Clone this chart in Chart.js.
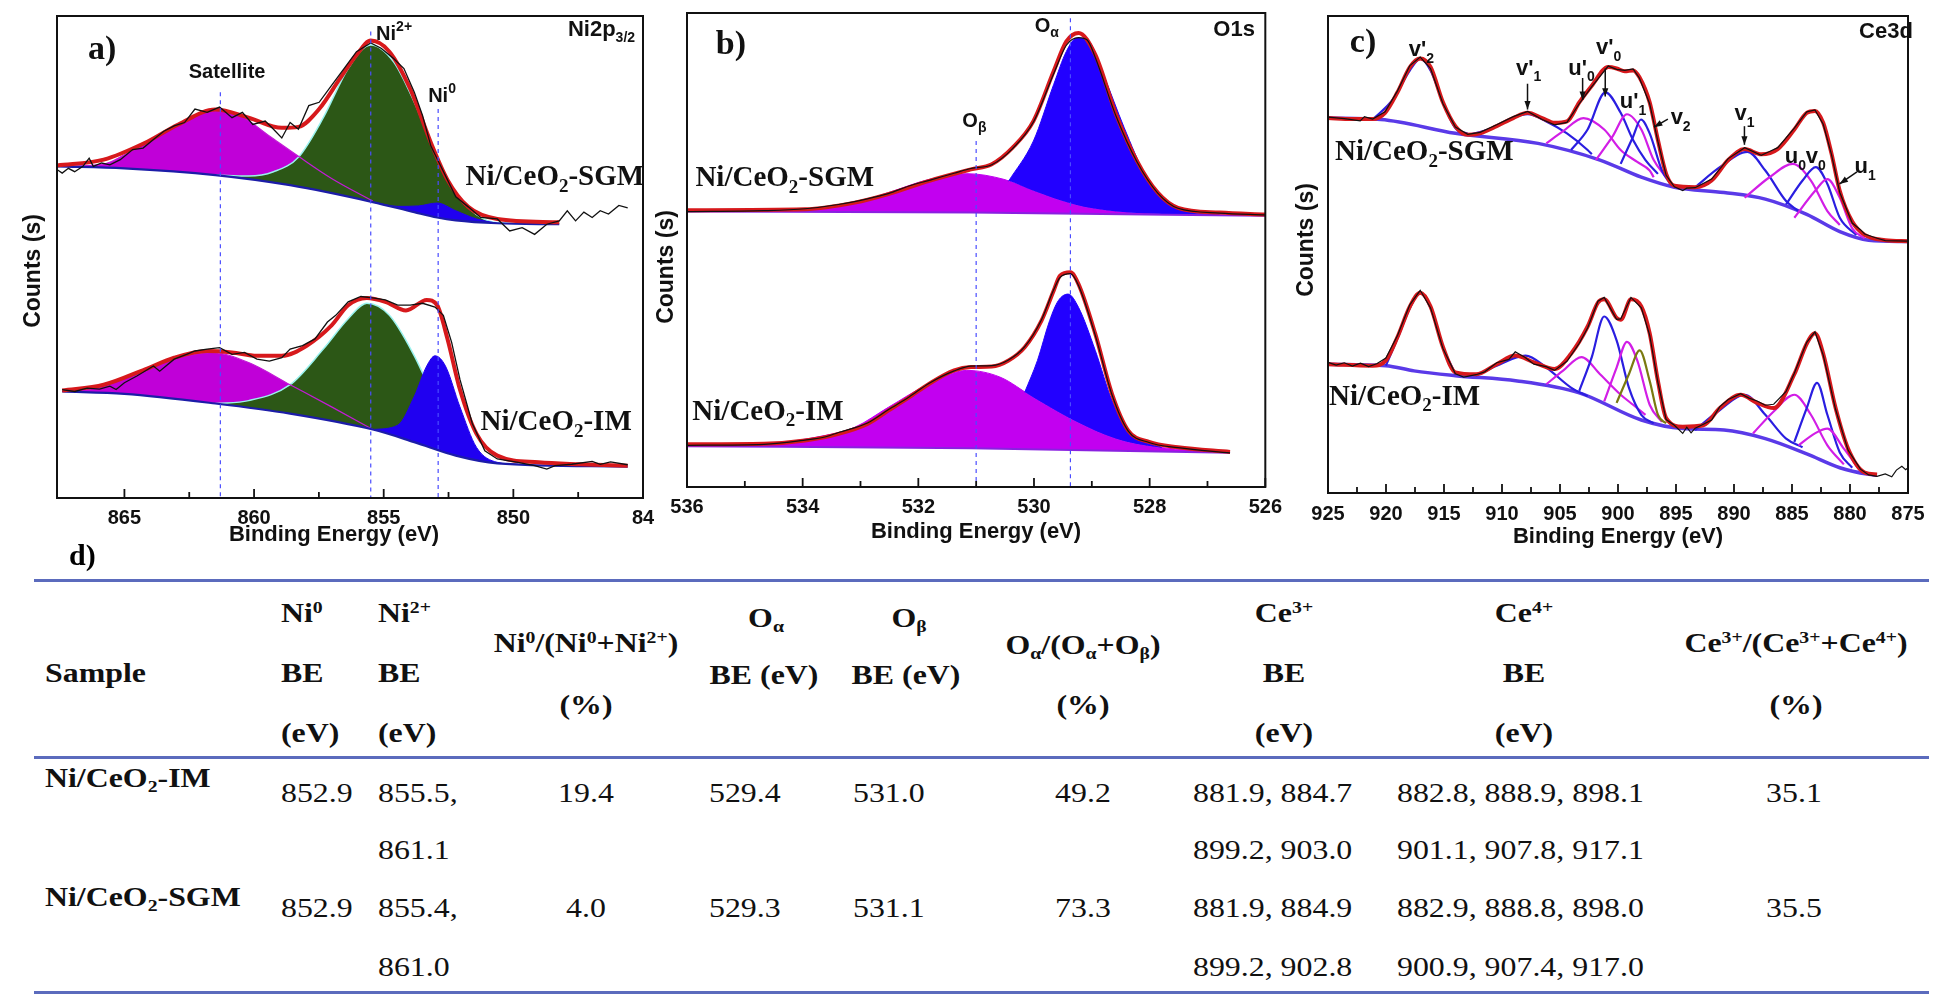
<!DOCTYPE html>
<html>
<head>
<meta charset="utf-8">
<script src="https://cdn.jsdelivr.net/npm/chart.js@4.4.1/dist/chart.umd.min.js"></script>
<style>
  body { margin: 0; background: #fff; width: 1939px; height: 1001px; position: relative; overflow: hidden; }
  canvas { position: absolute; top: 0; }
  #cA { left: 0; }
  #cB { left: 650px; }
  #cC { left: 1290px; }
  .hl { position: absolute; left: 34px; width: 1895px; height: 3px; background: #5b6bbd; }
  .cell { position: absolute; font-family: "Liberation Serif", serif; font-size: 27px; line-height: 1; white-space: nowrap; color: #111; }
  .b { font-weight: bold; }
  .l { transform: translateY(-50%) scaleX(1.18); transform-origin: left center; }
  .c { transform: translate(-50%, -50%) scaleX(1.18); transform-origin: center center; }
  sub { font-size: 0.62em; vertical-align: -0.3em; line-height: 0; }
  sup { font-size: 0.62em; vertical-align: 0.5em; line-height: 0; }
  #dlab { position: absolute; left: 69px; top: 555px; transform: translateY(-50%); font: bold 30px "Liberation Serif", serif; }
</style>
</head>
<body>
<canvas id="cA" width="680" height="560"></canvas>
<canvas id="cB" width="640" height="560"></canvas>
<canvas id="cC" width="649" height="560"></canvas>
<div id="dlab">d)</div>
<div id="table"></div>

<script>
// ---------- panel a) Ni2p3/2 ----------
const aTicks = [865, 860, 855, 850, 845];
const aTickLabels = ['865', '860', '855', '850', '84'];
const aMinor = [862.5, 857.5, 852.5, 847.5];
const aPeaks = [[861.3, 84.2], [855.5, 96.8], [852.9, 80.7]];

const aSgmRaw = [[867.59,68.1],[867.40,67.4],[867.16,68.4],[866.92,67.7],[866.60,68.8],[866.36,70.5],[866.20,68.8],[865.88,69.5],[865.56,69.1],[865.16,70.2],[864.68,72.3],[864.28,72.6],[863.88,74.4],[863.48,76.1],[863.08,77.2],[862.68,77.9],[862.28,80.7],[861.81,80.0],[861.33,81.1],[860.85,78.9],[860.45,80.0],[860.05,77.5],[859.57,78.2],[859.25,76.5],[858.93,74.7],[858.61,77.9],[858.29,76.5],[857.89,81.4],[857.49,82.1],[857.01,85.6],[856.53,89.1],[856.05,92.6],[855.50,94.4],[855.10,93.3],[854.62,91.2],[854.22,89.1],[853.82,84.2],[853.50,79.3],[853.18,73.0],[852.86,69.5],[852.54,66.0],[852.22,62.5],[851.74,60.4],[851.26,58.2],[850.62,57.9],[850.14,55.4],[849.66,56.1],[849.18,54.7],[848.71,56.8],[848.23,57.5],[847.92,59.6],[847.60,57.5],[847.28,59.3],[846.96,58.2],[846.65,59.6],[846.33,58.9],[845.93,60.7],[845.59,60.2]];
const aSgmFit = [[867.59,69.0],[865.80,70.2],[864.20,73.7],[862.92,77.5],[861.49,80.6],[860.21,78.9],[858.93,76.8],[858.29,77.0],[857.49,80.7],[856.69,87.0],[856.05,91.9],[855.50,94.9],[854.78,92.6],[853.98,84.9],[853.18,73.7],[852.54,66.0],[851.74,60.4],[850.62,57.9],[848.23,57.2]];
const aSgmBg = [[867.59,68.8],[865.00,68.4],[861.49,67.0],[858.61,64.9],[855.42,61.4],[853.82,59.3],[852.94,58.2],[852.22,57.6],[850.62,57.0],[848.23,56.8]];
const aSgmSat = [[867.59,68.8],[865.80,69.3],[865.00,71.2],[863.40,76.1],[862.28,79.3],[861.49,80.4],[860.53,79.3],[859.41,75.1],[858.29,70.9],[857.01,66.3],[855.42,61.6]];
const aSgmNi2 = [[861.49,67.0],[860.21,66.8],[859.25,67.7],[858.29,70.7],[857.33,78.9],[856.37,89.1],[855.50,94.0],[854.62,90.5],[853.82,82.1],[853.02,71.6],[852.22,63.2],[851.42,58.8],[850.62,57.1],[848.23,56.8]];
const aSgmNi0 = [[855.42,61.4],[854.46,60.5],[853.66,60.6],[852.94,61.2],[852.22,59.6],[851.42,57.9],[850.62,57.0]];

const aImRaw = [[867.40,22.5],[866.92,22.1],[866.44,22.8],[865.96,22.6],[865.56,23.2],[865.32,22.5],[865.00,23.9],[864.52,25.3],[863.88,27.4],[863.64,26.3],[863.08,28.8],[862.60,29.8],[862.28,30.5],[861.81,30.9],[861.33,31.2],[860.85,29.8],[860.37,30.2],[859.89,28.8],[859.41,28.4],[858.93,29.1],[858.61,30.9],[858.13,31.6],[857.65,33.0],[857.17,36.5],[856.85,37.9],[856.37,40.7],[855.88,41.8],[855.42,41.5],[854.94,41.1],[854.46,40.0],[853.98,40.0],[853.50,40.4],[853.02,39.6],[852.70,37.9],[852.38,32.3],[852.06,24.6],[851.58,15.4],[851.10,9.8],[850.62,8.1],[849.82,7.4],[849.18,6.7],[848.71,6.0],[848.39,6.7],[847.75,7.0],[846.96,7.6],[846.65,7.0],[846.25,7.5],[845.59,6.9]];
const aImFit = [[867.40,22.3],[865.80,23.5],[864.20,26.7],[863.08,29.1],[861.81,30.5],[860.85,30.2],[859.89,29.5],[858.93,29.5],[857.97,31.6],[857.01,35.8],[856.37,40.0],[855.65,41.5],[854.94,40.7],[854.14,38.9],[853.34,41.1],[852.94,40.0],[852.54,33.0],[852.06,22.5],[851.42,13.3],[850.62,8.8],[849.03,7.4],[847.43,7.0],[845.59,6.7]];
const aImBg = [[867.40,22.1],[865.00,21.6],[861.49,19.6],[858.61,17.5],[855.42,14.2],[853.82,11.6],[852.22,8.8],[850.62,7.2],[845.59,6.5]];
const aImSat = [[867.40,22.1],[865.80,23.2],[865.00,24.9],[863.40,28.4],[861.65,30.2],[860.21,28.1],[858.61,23.5],[857.01,18.9],[855.42,14.2]];
const aImNi2 = [[861.49,19.6],[860.21,20.2],[858.61,23.5],[857.33,30.9],[856.37,37.2],[855.65,40.4],[854.78,37.9],[853.82,29.5],[853.02,20.4],[852.22,12.6],[851.42,8.8],[850.62,7.2]];
const aImNi0 = [[855.42,14.2],[854.46,15.1],[853.82,21.1],[853.34,27.4],[853.02,29.5],[852.62,27.4],[852.06,18.9],[851.42,10.5],[850.62,7.4],[849.82,7.0]];

// ---------- panel b) O1s ----------
const bTicks = [536, 534, 532, 530, 528, 526];
const bTickLabels = ['536', '534', '532', '530', '528', '526'];
const bMinor = [535, 533, 531, 529, 527];
const bPeaks = [[531.0, 73.0], [529.37, 98.9]];

const bSgmRaw = [[536.00,58.1],[534.67,58.3],[533.96,58.7],[533.38,59.6],[532.88,60.8],[532.52,61.9],[532.16,63.5],[531.81,64.7],[531.38,66.2],[531.09,67.2],[530.73,68.0],[530.37,71.4],[530.01,77.0],[529.66,87.2],[529.44,93.2],[529.23,94.8],[529.08,94.3],[528.94,90.6],[528.58,78.2],[528.22,68.6],[527.86,62.0],[527.51,58.8],[526.79,57.8],[526.00,57.4]];
const bSgmFit = [[536.00,58.4],[533.96,58.6],[533.10,60.0],[532.52,61.8],[531.81,64.6],[531.09,67.0],[530.73,68.1],[530.37,71.6],[530.01,77.2],[529.66,87.7],[529.44,94.0],[529.23,95.8],[528.94,91.2],[528.58,78.6],[528.22,68.8],[527.86,62.1],[527.51,58.9],[526.79,57.9],[526.00,57.5]];
const bSgmBase = [[536.00,58.1],[531.09,57.9],[526.00,57.2]];
const bSgmObeta = [[536.00,58.4],[533.96,58.6],[533.10,60.0],[532.52,62.1],[531.81,64.9],[531.16,66.1],[530.52,64.9],[530.01,62.5],[529.30,59.6],[528.58,58.1],[527.51,57.5],[526.00,57.3]];
const bSgmOalpha = [[530.44,64.5],[530.01,73.0],[529.66,84.9],[529.44,91.9],[529.26,94.7],[529.08,94.4],[528.80,87.0],[528.44,75.8],[528.08,66.0],[527.72,60.4],[527.36,58.2],[526.79,57.5]];

const bImRaw = [[536.00,8.8],[534.67,9.0],[533.96,9.9],[533.60,10.6],[533.38,11.5],[532.88,13.5],[532.52,16.3],[532.16,19.0],[531.81,21.9],[531.38,24.5],[531.09,25.5],[530.73,25.6],[530.44,26.8],[530.16,29.6],[529.87,35.3],[529.66,41.6],[529.55,44.2],[529.37,45.0],[529.23,42.5],[528.94,32.0],[528.65,19.4],[528.37,11.8],[528.01,9.4],[527.51,8.3],[526.61,7.2]];
const bImFit = [[536.00,9.0],[534.67,9.1],[533.96,9.8],[533.38,11.2],[532.88,13.3],[532.52,16.1],[532.16,18.9],[531.81,21.8],[531.38,24.6],[531.09,25.3],[530.73,25.4],[530.44,26.7],[530.16,29.5],[529.87,35.1],[529.66,41.4],[529.55,44.6],[529.37,45.3],[529.23,42.8],[528.94,32.3],[528.65,19.6],[528.37,11.9],[528.01,9.5],[527.51,8.4],[526.61,7.4]];
const bImBase = [[536.00,8.6],[531.09,8.2],[526.61,7.2]];
const bImObeta = [[536.00,8.8],[534.67,9.1],[533.60,10.9],[533.10,12.6],[532.52,16.8],[531.81,21.8],[531.16,24.6],[530.59,23.2],[530.01,18.9],[529.30,14.0],[528.58,10.2],[527.86,8.4],[526.61,7.4]];
const bImOalpha = [[530.16,20.0],[529.94,26.7],[529.73,35.1],[529.58,39.3],[529.41,40.7],[529.23,37.9],[528.94,28.8],[528.65,18.2],[528.37,11.9],[528.08,9.5],[527.79,8.4]];

// ---------- panel c) Ce3d ----------
const cTicks = [925, 920, 915, 910, 905, 900, 895, 890, 885, 880, 875];
const cTickLabels = ['925', '920', '915', '910', '905', '900', '895', '890', '885', '880', '875'];
const cMinor = [922.5, 917.5, 912.5, 907.5, 902.5, 897.5, 892.5, 887.5, 882.5, 877.5];

const cSgmRaw = [[925.00,78.8],[923.60,78.5],[922.22,78.0],[921.86,78.9],[921.15,78.4],[920.08,79.9],[919.01,84.3],[917.94,89.6],[917.05,91.4],[916.16,89.0],[915.09,81.6],[914.02,76.7],[912.95,75.2],[911.89,75.6],[910.46,77.2],[909.03,78.9],[907.79,80.0],[906.54,78.3],[905.47,77.2],[904.40,77.7],[903.34,81.6],[902.26,85.2],[900.84,89.5],[900.12,88.8],[899.41,88.6],[898.70,88.9],[898.16,87.0],[897.27,81.6],[896.56,73.7],[895.85,66.6],[895.14,64.2],[894.42,63.4],[894.07,63.9],[893.35,64.0],[891.93,65.8],[890.50,70.1],[889.08,72.4],[887.65,70.8],[886.94,71.6],[886.23,72.4],[884.80,76.5],[883.73,79.9],[883.02,80.3],[882.31,77.3],[881.60,71.0],[880.88,63.0],[879.81,56.6],[879.10,55.2],[878.74,54.3],[877.67,53.4],[876.96,52.9],[875.00,52.8]];
const cSgmFit = [[925.00,78.6],[922.93,78.4],[921.15,78.4],[920.08,79.7],[919.01,84.0],[917.94,89.3],[917.05,91.1],[916.16,89.3],[915.09,81.9],[914.02,76.9],[912.95,75.1],[911.89,75.4],[910.46,76.9],[909.03,78.6],[907.79,79.7],[906.54,78.6],[905.47,77.6],[904.40,77.9],[903.34,81.9],[902.26,85.4],[900.84,89.3],[900.12,89.0],[899.41,88.4],[898.70,88.6],[898.16,87.2],[897.27,81.9],[896.56,74.0],[895.85,66.9],[895.14,64.4],[893.35,64.1],[891.93,65.5],[890.50,69.8],[889.08,72.1],[887.65,71.0],[886.23,72.1],[884.80,76.2],[883.73,79.7],[883.02,80.1],[882.31,77.6],[881.60,71.2],[880.88,63.3],[879.81,56.9],[878.74,54.1],[876.96,53.0],[875.00,52.8]];
const cSgmBg = [[925.00,78.6],[920.44,78.3],[914.02,75.4],[906.90,73.3],[901.55,69.8],[897.99,66.2],[895.14,64.1],[890.86,63.0],[887.30,61.6],[883.73,58.4],[880.88,54.8],[878.39,53.0],[875.00,52.7]];
const cSgmV2p = [[921.15,78.3],[919.37,82.6],[917.94,88.6],[917.05,91.0],[916.16,88.6],[915.09,81.9],[914.02,76.5],[912.95,75.3]];
const cSgmV1p = [[912.95,75.1],[911.17,76.2],[909.39,78.3],[907.79,79.4],[906.18,77.9],[904.40,75.4],[902.62,71.9],[902.26,71.0]];
const cSgmU0p = [[906.18,73.3],[904.76,75.8],[902.98,78.6],[901.19,76.2],[899.77,71.9],[898.34,69.4],[897.27,67.6],[896.92,66.2]];
const cSgmV0p = [[904.05,71.9],[902.62,76.2],[901.09,84.0],[899.77,79.7],[898.70,74.0],[897.63,69.8],[896.56,66.9]];
const cSgmU1p = [[901.91,69.8],[900.48,74.7],[899.23,79.4],[897.99,76.2],[896.92,69.8],[895.85,66.2]];
const cSgmV2 = [[899.77,69.0],[898.70,74.7],[898.02,78.3],[897.27,75.4],[896.21,67.6],[895.49,64.8]];
const cSgmV1 = [[893.35,64.1],[891.22,68.3],[888.83,71.5],[887.30,67.6],[885.51,61.2],[884.44,59.1]];
const cSgmU0 = [[889.08,61.9],[886.94,66.2],[884.94,69.0],[883.37,65.5],[881.95,59.1],[880.88,56.2]];
const cSgmV0 = [[885.51,60.5],[884.09,65.5],[882.95,68.3],[881.95,64.8],[880.88,57.7],[879.45,54.1]];
const cSgmU1 = [[884.80,57.7],[883.02,63.3],[881.95,65.8],[880.88,61.9],[879.81,55.5],[878.74,53.4]];

const cImRaw = [[925.00,27.4],[924.30,26.8],[923.60,27.3],[922.90,26.6],[922.20,27.2],[921.50,26.5],[920.80,27.1],[920.01,28.3],[919.01,33.0],[917.94,39.5],[917.05,42.5],[916.16,38.8],[915.09,30.3],[914.02,25.0],[913.30,24.3],[912.24,24.8],[911.50,25.4],[910.46,27.3],[909.40,28.0],[908.86,29.6],[908.00,28.4],[907.25,27.0],[906.20,26.5],[905.47,25.7],[904.40,27.6],[903.34,31.4],[902.62,34.6],[901.73,40.2],[901.19,41.0],[900.12,36.4],[899.77,36.5],[898.88,41.0],[897.99,38.8],[897.27,33.1],[896.56,23.2],[895.85,15.4],[895.14,14.2],[894.42,12.5],[894.07,13.8],[893.70,12.6],[893.35,13.6],[892.64,14.4],[891.93,15.3],[891.22,18.1],[890.50,19.6],[889.43,20.8],[888.70,19.9],[888.01,19.3],[887.30,18.4],[886.58,18.6],[885.51,21.3],[884.80,25.1],[883.73,31.6],[883.02,33.8],[882.31,28.9],[881.24,17.5],[880.17,9.0],[879.10,5.0],[878.39,3.8],[877.67,3.5],[876.96,4.0],[876.40,3.4],[876.00,4.8],[875.53,5.6],[875.20,4.9],[875.00,5.3]];
const cImFit = [[925.00,27.0],[921.15,26.7],[920.01,27.8],[919.01,32.7],[917.94,39.1],[917.05,42.0],[916.16,39.1],[915.09,30.6],[914.02,25.3],[912.24,24.9],[910.46,27.0],[908.86,28.8],[907.25,27.4],[905.47,26.0],[904.05,29.2],[902.62,34.9],[901.73,39.9],[901.19,40.6],[900.12,36.7],[899.77,36.3],[898.88,40.6],[897.99,39.1],[897.27,33.5],[896.56,23.5],[895.85,15.7],[894.42,13.9],[892.64,14.2],[891.22,17.8],[889.43,20.6],[888.01,18.9],[886.58,17.8],[884.80,24.9],[883.73,31.3],[883.02,33.5],[882.31,29.2],[881.24,17.8],[880.17,9.3],[878.74,4.3],[877.67,3.9]];
const cImBg = [[925.00,27.0],[920.01,26.7],[917.59,25.6],[914.02,24.6],[908.68,23.5],[903.34,21.0],[897.99,15.3],[894.42,13.5],[890.86,13.2],[887.30,11.4],[883.73,8.2],[880.88,5.3],[878.39,3.9],[877.67,3.7]];
const cImV2p = [[920.01,26.7],[919.01,32.4],[917.94,38.8],[917.05,41.9],[916.16,38.8],[915.09,30.6],[914.02,24.9]];
const cImV1p = [[912.24,24.6],[910.46,26.7],[907.97,28.8],[906.18,26.3],[904.05,22.1],[902.62,20.3]];
const cImU0p = [[906.18,22.8],[904.76,25.6],[903.15,28.5],[901.55,24.9],[899.77,20.6],[898.70,18.5],[897.63,16.4]];
const cImV0p = [[903.34,21.4],[902.26,28.5],[901.19,37.0],[900.12,32.0],[899.06,22.1],[897.99,16.4],[896.92,14.6]];
const cImU1p = [[901.19,19.2],[900.12,26.3],[899.23,31.7],[898.34,27.8],[897.27,18.5],[896.21,14.9]];
const cImV2 = [[900.12,18.9],[899.06,24.9],[898.13,29.9],[897.27,23.5],[896.56,16.4],[895.85,14.6]];
const cImV1 = [[893.35,13.2],[891.22,17.4],[889.08,20.6],[887.30,16.4],[885.51,11.4],[884.09,9.6]];
const cImU0 = [[888.36,12.5],[886.58,17.1],[884.80,20.6],[883.37,16.4],[881.95,10.0],[880.53,6.0]];
const cImV0 = [[884.80,10.7],[883.73,17.8],[882.84,23.1],[881.95,16.4],[880.88,8.5],[879.81,5.3]];
const cImU1 = [[884.44,10.0],[883.02,12.5],[881.95,13.5],[880.53,9.3],[879.10,4.6]];

// ---------- d) table ----------
const sampleNames = ['Ni/CeO<sub>2</sub>-IM', 'Ni/CeO<sub>2</sub>-SGM'];
const ni0BE = ['852.9', '852.9'];
const ni2BE = [['855.5,', '861.1'], ['855.4,', '861.0']];
const niRatio = ['19.4', '4.0'];
const oAlphaBE = ['529.4', '529.3'];
const oBetaBE = ['531.0', '531.1'];
const oRatio = ['49.2', '73.3'];
const ce3BE = [['881.9, 884.7', '899.2, 903.0'], ['881.9, 884.9', '899.2, 902.8']];
const ce4BE = [['882.8, 888.9, 898.1', '901.1, 907.8, 917.1'], ['882.9, 888.8, 898.0', '900.9, 907.4, 917.0']];
const ceRatio = ['35.1', '35.5'];

// ---------- drawing ----------
const FONTS = {
  lab: 'bold 20px "Liberation Sans"',
  labL: 'bold 22px "Liberation Sans"',
  labS: 'bold 14px "Liberation Sans"',
  samp: 'bold 29px "Liberation Serif"',
  sampS: 'bold 19px "Liberation Serif"',
  pan: 'bold 34px "Liberation Serif"',
  axis: 'bold 22px "Liberation Sans"',
  axisY: 'bold 23px "Liberation Sans"'
};

function drawRich(ctx, x, y, parts) {
  let w = 0;
  parts.forEach(p => { ctx.font = FONTS[p[1]]; w += ctx.measureText(p[0]).width; });
  let cx = x - w / 2;
  ctx.textBaseline = 'middle';
  ctx.textAlign = 'left';
  parts.forEach(p => {
    ctx.font = FONTS[p[1]];
    ctx.fillText(p[0], cx, y + (p[2] || 0));
    cx += ctx.measureText(p[0]).width;
  });
}

const sgmLabel = [['Ni/CeO', 'samp'], ['2', 'sampS', 9], ['-SGM', 'samp']];
const imLabel = [['Ni/CeO', 'samp'], ['2', 'sampS', 9], ['-IM', 'samp']];

function panelPlugin(p) {
  return {
    id: 'panelDecor',
    afterDatasetsDraw(chart) {
      const { ctx, chartArea: ca, scales: { x, y } } = chart;
      ctx.save();
      ctx.strokeStyle = '#111';
      ctx.lineWidth = 2;
      ctx.strokeRect(ca.left, ca.top, ca.right - ca.left, ca.bottom - ca.top);
      ctx.lineWidth = 1.8;
      const tick = (v, len) => {
        const px = x.getPixelForValue(v);
        ctx.beginPath(); ctx.moveTo(px, ca.bottom); ctx.lineTo(px, ca.bottom - len); ctx.stroke();
      };
      p.major.forEach(v => tick(v, 9));
      p.minor.forEach(v => tick(v, 6));
      ctx.fillStyle = '#111';
      p.labels.forEach(l => drawRich(ctx, x.getPixelForValue(l[0]), y.getPixelForValue(l[1]), l[2]));
      (p.arrows || []).forEach(a => {
        const x1 = x.getPixelForValue(a[0]), y1 = y.getPixelForValue(a[1]);
        const x2 = x.getPixelForValue(a[2]), y2 = y.getPixelForValue(a[3]);
        const ang = Math.atan2(y2 - y1, x2 - x1);
        ctx.lineWidth = 1.5;
        ctx.beginPath(); ctx.moveTo(x1, y1); ctx.lineTo(x2, y2); ctx.stroke();
        ctx.beginPath();
        ctx.moveTo(x2, y2);
        ctx.lineTo(x2 - 9 * Math.cos(ang - 0.35), y2 - 9 * Math.sin(ang - 0.35));
        ctx.lineTo(x2 - 9 * Math.cos(ang + 0.35), y2 - 9 * Math.sin(ang + 0.35));
        ctx.closePath(); ctx.fill();
      });
      drawRich(ctx, p.xTitle[0], p.xTitle[1], [['Binding Energy (eV)', 'axis']]);
      ctx.translate(p.yTitle[0], p.yTitle[1]);
      ctx.rotate(-Math.PI / 2);
      drawRich(ctx, 0, 0, [['Counts (s)', 'axisY']]);
      ctx.restore();
    }
  };
}

function makePanel(id, p, datasets) {
  datasets.forEach((d, i) => { d.order = -i; });
  return new Chart(document.getElementById(id), {
    type: 'line',
    data: { datasets },
    options: {
      responsive: false,
      animation: false,
      devicePixelRatio: 1,
      layout: { padding: p.pad },
      plugins: { legend: { display: false }, tooltip: { enabled: false } },
      elements: { point: { radius: 0 } },
      scales: {
        x: {
          type: 'linear', min: p.min, max: p.max, reverse: true,
          grid: { display: false, drawTicks: false },
          border: { display: false },
          afterBuildTicks: s => { s.ticks = p.major.map(v => ({ value: v })); },
          afterFit: s => { s.height = p.axisH; },
          ticks: {
            autoSkip: false, maxRotation: 0, padding: p.tickPad, color: '#111',
            font: { family: 'Liberation Sans', weight: 'bold', size: 20 },
            callback: (v, i) => p.tickLabels[i]
          }
        },
        y: { display: false, min: 0, max: 100 }
      }
    },
    plugins: [panelPlugin(p)]
  });
}

function ln(data, color, width, extra) {
  return Object.assign({ data, borderColor: color, borderWidth: width, pointRadius: 0, fill: false, cubicInterpolationMode: 'monotone' }, extra || {});
}
function dash(pk) {
  return ln([[pk[0], pk[1]], [pk[0], 0]], '#4a4cff', 1.2, { borderDash: [4, 4], cubicInterpolationMode: 'default', tension: 0 });
}

// ---- panel a datasets ----
const aSets = [];
function addA(raw, fit, bg, sat, ni2, ni0) {
  const t = aSets.length;
  aSets.push(ln(bg, 'rgba(0,0,0,0)', 0));
  aSets.push(ln(sat, '#c000d8', 0, { fill: { target: t }, backgroundColor: '#c000d8' }));
  aSets.push(ln(ni2, '#9af2ee', 1.5, { fill: { target: t }, backgroundColor: '#2c5716' }));
  aSets.push(ln(ni0, '#2000f0', 1, { fill: { target: t }, backgroundColor: '#2000f0' }));
  aSets.push(ln(sat, '#c41ad8', 1.2));
  aSets.push(ln(bg, '#1c1ca8', 2.2));
  aSets.push(ln(fit, '#d7191c', 4));
  aSets.push(ln(raw, '#111', 1.3, { cubicInterpolationMode: 'default', tension: 0 }));
}
addA(aSgmRaw, aSgmFit, aSgmBg, aSgmSat, aSgmNi2, aSgmNi0);
addA(aImRaw, aImFit, aImBg, aImSat, aImNi2, aImNi0);
aPeaks.forEach(pk => aSets.push(dash(pk)));

makePanel('cA', {
  min: 845, max: 867.6, major: aTicks, minor: aMinor, tickLabels: aTickLabels,
  pad: { left: 57, top: 16, right: 37, bottom: 0 }, axisH: 62, tickPad: 8,
  xTitle: [334, 535], yTitle: [34, 271],
  labels: [
    [865.86, 92.9, [['a)', 'pan']]],
    [861.04, 88.2, [['Satellite', 'lab']]],
    [854.6, 96.1, [['Ni', 'lab'], ['2+', 'labS', -8]]],
    [852.75, 83.2, [['Ni', 'lab'], ['0', 'labS', -8]]],
    [846.6, 97.1, [['Ni2p', 'labL'], ['3/2', 'labS', 8]]],
    [848.4, 66.4, sgmLabel],
    [848.35, 15.6, imLabel]
  ]
}, aSets);

// ---- panel b datasets ----
const bSets = [];
function addB(raw, fit, base, obeta, oalpha) {
  const t = bSets.length;
  bSets.push(ln(base, 'rgba(0,0,0,0)', 0));
  bSets.push(ln(obeta, '#c200f0', 1, { fill: { target: t }, backgroundColor: '#c200f0' }));
  bSets.push(ln(oalpha, '#2200ff', 1, { fill: { target: t + 1 }, backgroundColor: '#2200ff' }));
  bSets.push(ln(base, '#8a20e0', 2));
  bSets.push(ln(fit, '#d7191c', 4));
  bSets.push(ln(raw, '#111', 1.2));
}
addB(bSgmRaw, bSgmFit, bSgmBase, bSgmObeta, bSgmOalpha);
addB(bImRaw, bImFit, bImBase, bImObeta, bImOalpha);
bPeaks.forEach(pk => bSets.push(dash(pk)));

makePanel('cB', {
  min: 526, max: 536, major: bTicks, minor: bMinor, tickLabels: bTickLabels,
  pad: { left: 37, top: 13, right: 24, bottom: 0 }, axisH: 73, tickPad: 8,
  xTitle: [326, 532], yTitle: [17, 267],
  labels: [
    [535.24, 93.2, [['b)', 'pan']]],
    [529.78, 97.2, [['O', 'lab'], ['α', 'labS', 7]]],
    [531.03, 77.1, [['O', 'lab'], ['β', 'labS', 7]]],
    [526.54, 96.4, [['O1s', 'labL']]],
    [534.31, 65.0, sgmLabel],
    [534.6, 15.7, imLabel]
  ]
}, bSets);

// ---- panel c datasets ----
const BLUE = '#2a1ee0', MAG = '#d21ee6', OLIVE = '#7a7a10';
const cSets = [];
function addC(raw, fit, bg, comps) {
  cSets.push(ln(bg, '#5a3ae8', 3.5));
  comps.forEach(c => cSets.push(ln(c[0], c[1], 2.2)));
  cSets.push(ln(fit, '#d7191c', 4));
  cSets.push(ln(raw, '#111', 1.2, { cubicInterpolationMode: 'default', tension: 0 }));
}
addC(cSgmRaw, cSgmFit, cSgmBg, [[cSgmV2p, BLUE], [cSgmV1p, BLUE], [cSgmU0p, MAG], [cSgmV0p, BLUE], [cSgmU1p, MAG], [cSgmV2, BLUE], [cSgmV1, BLUE], [cSgmU0, MAG], [cSgmV0, BLUE], [cSgmU1, MAG]]);
addC(cImRaw, cImFit, cImBg, [[cImV2p, BLUE], [cImV1p, BLUE], [cImU0p, MAG], [cImV0p, BLUE], [cImU1p, MAG], [cImV2, OLIVE], [cImV1, BLUE], [cImU0, MAG], [cImV0, BLUE], [cImU1, MAG]]);

const sub = (m, s) => [[m, 'labL'], [s, 'labS', 9]];
makePanel('cC', {
  min: 875, max: 925, major: cTicks, minor: cMinor, tickLabels: cTickLabels,
  pad: { left: 38, top: 16, right: 31, bottom: 0 }, axisH: 67, tickPad: 9,
  xTitle: [328, 537], yTitle: [17, 240],
  labels: [
    [921.98, 94.3, [['c)', 'pan']]],
    [876.9, 96.6, [['Ce3d', 'labL']]],
    [916.7, 71.3, sgmLabel],
    [918.4, 20.1, imLabel],
    [916.95, 92.9, sub("v'", '2')],
    [907.7, 89.0, sub("v'", '1')],
    [903.15, 89.0, sub("u'", '0')],
    [900.8, 93.2, sub("v'", '0')],
    [898.7, 81.9, sub("u'", '1')],
    [894.6, 78.6, sub('v', '2')],
    [889.1, 79.4, sub('v', '1')],
    [884.7, 70.5, sub('u', '0')],
    [882.95, 70.5, sub('v', '0')],
    [878.7, 68.3, sub('u', '1')]
  ],
  arrows: [
    [907.8, 85.8, 907.8, 80.4],
    [903.05, 87.0, 903.05, 82.4],
    [901.1, 89.0, 901.1, 83.1],
    [895.7, 78.4, 896.9, 76.7],
    [889.1, 76.9, 889.1, 73.0],
    [879.4, 67.3, 880.9, 64.8]
  ]
}, cSets);

// ---- table ----
const tbl = document.getElementById('table');
function cell(html, x, y, align, bold) {
  const d = document.createElement('div');
  d.className = 'cell ' + align + (bold ? ' b' : '');
  d.style.left = x + 'px';
  d.style.top = y + 'px';
  d.innerHTML = html;
  tbl.appendChild(d);
}
[580, 757, 992].forEach(y => {
  const h = document.createElement('div');
  h.className = 'hl';
  h.style.top = (y - 1) + 'px';
  tbl.appendChild(h);
});
const headCells = [
  ['Sample', 45, 673, 'l'],
  ['Ni<sup>0</sup>', 281, 613, 'l'], ['BE', 281, 673, 'l'], ['(eV)', 281, 733, 'l'],
  ['Ni<sup>2+</sup>', 378, 613, 'l'], ['BE', 378, 673, 'l'], ['(eV)', 378, 733, 'l'],
  ['Ni<sup>0</sup>/(Ni<sup>0</sup>+Ni<sup>2+</sup>)', 586, 643, 'c'], ['(%)', 586, 705, 'c'],
  ['O<sub>α</sub>', 766, 618, 'c'], ['BE (eV)', 764, 675, 'c'],
  ['O<sub>β</sub>', 909, 618, 'c'], ['BE (eV)', 906, 675, 'c'],
  ['O<sub>α</sub>/(O<sub>α</sub>+O<sub>β</sub>)', 1083, 645, 'c'], ['(%)', 1083, 705, 'c'],
  ['Ce<sup>3+</sup>', 1284, 613, 'c'], ['BE', 1284, 673, 'c'], ['(eV)', 1284, 733, 'c'],
  ['Ce<sup>4+</sup>', 1524, 613, 'c'], ['BE', 1524, 673, 'c'], ['(eV)', 1524, 733, 'c'],
  ['Ce<sup>3+</sup>/(Ce<sup>3+</sup>+Ce<sup>4+</sup>)', 1796, 643, 'c'], ['(%)', 1796, 705, 'c']
];
headCells.forEach(h => cell(h[0], h[1], h[2], h[3], true));

const nameY = [778, 897], row1Y = [793, 908], row2Y = [850, 967];
sampleNames.forEach((n, i) => {
  cell(n, 45, nameY[i], 'l', true);
  cell(ni0BE[i], 281, row1Y[i], 'l');
  cell(ni2BE[i][0], 378, row1Y[i], 'l');
  cell(ni2BE[i][1], 378, row2Y[i], 'l');
  cell(niRatio[i], 586, row1Y[i], 'c');
  cell(oAlphaBE[i], 709, row1Y[i], 'l');
  cell(oBetaBE[i], 853, row1Y[i], 'l');
  cell(oRatio[i], 1083, row1Y[i], 'c');
  cell(ce3BE[i][0], 1193, row1Y[i], 'l');
  cell(ce3BE[i][1], 1193, row2Y[i], 'l');
  cell(ce4BE[i][0], 1397, row1Y[i], 'l');
  cell(ce4BE[i][1], 1397, row2Y[i], 'l');
  cell(ceRatio[i], 1794, row1Y[i], 'c');
});
</script>
</body>
</html>
